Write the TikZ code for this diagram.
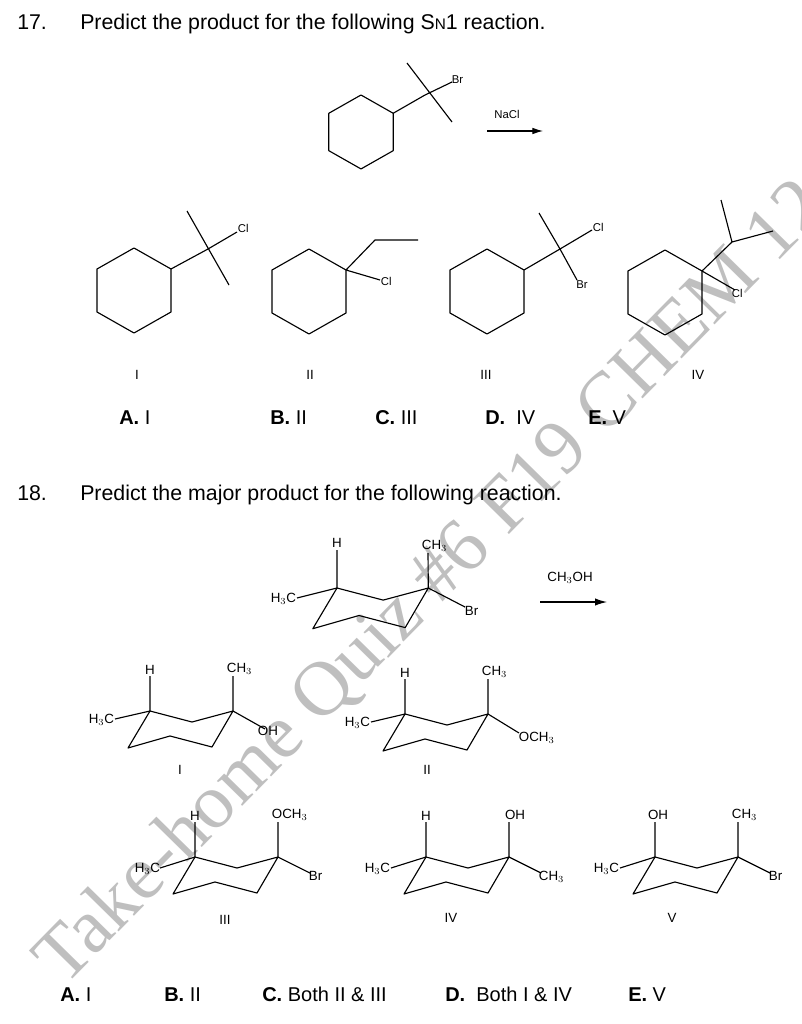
\documentclass[tikz,border=0pt]{standalone}
\usepackage{fontspec}
\usetikzlibrary{arrows.meta}
\setmainfont{Liberation Sans}
\newfontfamily\wmfont{Liberation Serif}
\tikzset{
  bond/.style={line width=0.85pt, line join=round},
  big/.style={font=\fontsize{15}{18}\selectfont, inner sep=0pt},
  head/.style={font=\fontsize{16}{19}\selectfont, inner sep=0pt},
  lab/.style={font=\fontsize{10}{12}\selectfont, inner sep=0.5pt},
  slab/.style={font=\fontsize{8.5}{10}\selectfont, inner sep=0.5pt},
  rn/.style={font=\fontsize{10}{12}\selectfont, inner sep=0pt},
  chair/.pic={
    \coordinate (-c1) at (0,0); \coordinate (-a) at (42,11);
    \coordinate (-c4) at (83,0); \coordinate (-b) at (62,36);
    \coordinate (-c) at (20,25); \coordinate (-d) at (-22,37);
    \draw[bond] (-c1)--(-a)--(-c4)--(-b)--(-c)--(-d)--cycle;
  },
  hexa/.pic={
    \coordinate (-t) at (0,0); \coordinate (-rt) at (37,21);
    \coordinate (-rb) at (37,64); \coordinate (-b) at (0,85);
    \coordinate (-lb) at (-37,64); \coordinate (-lt) at (-37,21);
    \draw[bond] (-t)--(-rt)--(-rb)--(-b)--(-lb)--(-lt)--cycle;
  }
}
\begin{document}
\begin{tikzpicture}[x=0.75pt,y=-0.75pt]
\useasboundingbox (0,0) rectangle (801,1024);
\begin{scope}
\clip (0,0) rectangle (801,1024);
\node[anchor=base west, rotate=45.5, text=black!25, font=\wmfont\fontsize{58}{60}\selectfont, inner sep=0pt] (wm) at (64,988) {Take-home Quiz \#6 F19 CHEM 12A};
\end{scope}

% ---- Question 17
\node[head, anchor=base west] (q17n) at (17,30) {17.};
\node[head, anchor=base west] (q17) at (80,30) {Predict the product for the following S{\fontsize{11.5}{12}\selectfont N}1 reaction.};

% reactant
\pic[scale=0.87] (r) at (361,95) {hexa};
\coordinate (rc) at (425,95);
\coordinate (rm1) at (407,63);
\coordinate (rm2) at (452,122);
\coordinate (rbr) at (452,82);
\draw[bond] (r-rt)--(rc) (rm1)--(rm2) (rc)--(rbr);
\node[slab, anchor=south west] (brl) at (451,84) {Br};
\node[slab] (nacl) at (507,114) {NaCl};
\coordinate (ar1s) at (487,131); \coordinate (ar1e) at (543,131);
\draw[bond, -{Latex[length=8pt,width=5pt]}] (ar1s)--(ar1e);

% product I
\pic (p1) at (134,248) {hexa};
\coordinate (p1c) at (208,249);
\draw[bond] (p1-rt)--(p1c) (187,211)--(229,285) (p1c)--(237,232);
\node[slab, anchor=west] (p1cl) at (237,228) {Cl};
\node[rn] (l1) at (137,375) {I};
% product II
\pic (p2) at (309,249) {hexa};
\draw[bond] (p2-rt)--(375,240)--(418,240) (p2-rt)--(380,280);
\node[slab, anchor=west] (p2cl) at (380,281) {Cl};
\node[rn] (l2) at (310,375) {II};
% product III
\pic (p3) at (487,249) {hexa};
\coordinate (p3c) at (560,249);
\draw[bond] (p3-rt)--(p3c)--(539,213) (p3c)--(592,230) (p3c)--(577,280);
\node[slab, anchor=west] (p3cl) at (592,227) {Cl};
\node[slab, anchor=north] (p3br) at (582,280) {Br};
\node[rn] (l3) at (486,375) {III};
% product IV
\pic (p4) at (665,250) {hexa};
\coordinate (p4c) at (732,242);
\draw[bond] (p4-rt)--(p4c)--(721,200) (p4c)--(773,231) (p4-rt)--(735,290);
\node[slab, anchor=west] (p4cl) at (731,293) {Cl};
\node[rn] (l4) at (698,375) {IV};

\node[big, anchor=base west] (a17) at (119,424) {\textbf{A.} I};
\node[big, anchor=base west] (b17) at (270,424) {\textbf{B.} II};
\node[big, anchor=base west] (c17) at (375,424) {\textbf{C.} III};
\node[big, anchor=base west] (d17) at (485,424) {\textbf{D.}\ \ IV};
\node[big, anchor=base west] (e17) at (588,424) {\textbf{E.} V};

% ---- Question 18
\node[head, anchor=base west] (q18n) at (17,500) {18.};
\node[head, anchor=base west] (q18) at (80,500) {Predict the major product for the following reaction.};

% reactant chair
\pic[scale=1.1] (s) at (337,588) {chair};
\draw[bond] (s-c1)--(337,550) (s-c1)--(297,598) (s-c4)--(428,553) (s-c4)--(465,607);
\node[lab, anchor=south] (sh) at (337,548) {H};
\node[lab, anchor=east] (sh3c) at (297,599) {H$_3$C};
\node[lab, anchor=south west] (sch3) at (421,552) {CH$_3$};
\node[lab, anchor=north west] (sbr) at (464,605) {Br};
\node[lab] (meoh) at (570,578) {CH$_3$OH};
\coordinate (ar2s) at (540,602); \coordinate (ar2e) at (607,602);
\draw[bond, -{Latex[length=9pt,width=5.5pt]}] (ar2s)--(ar2e);

% I
\pic (i) at (150,711) {chair};
\draw[bond] (i-c1)--(150,676) (i-c1)--(115,719) (i-c4)--(233,676) (i-c4)--(265,729);
\node[lab, anchor=south] at (150,675) {H};
\node[lab, anchor=east] at (115,720) {H$_3$C};
\node[lab, anchor=south west] at (226,675) {CH$_3$};
\node[lab, anchor=north west] at (257,725) {OH};
\node[rn] at (180,770) {I};
% II
\pic (ii) at (405,714) {chair};
\draw[bond] (ii-c1)--(405,679) (ii-c1)--(371,722) (ii-c4)--(488,679) (ii-c4)--(519,733);
\node[lab, anchor=south] at (405,678) {H};
\node[lab, anchor=east] at (371,723) {H$_3$C};
\node[lab, anchor=south west] at (481,678) {CH$_3$};
\node[lab, anchor=west] at (518,738) {OCH$_3$};
\node[rn] at (427,770) {II};
% III
\pic (iii) at (195,857) {chair};
\draw[bond] (iii-c1)--(195,822) (iii-c1)--(160,868) (iii-c4)--(278,822) (iii-c4)--(310,873);
\node[lab, anchor=south] at (195,821) {H};
\node[lab, anchor=east] at (161,869) {H$_3$C};
\node[lab, anchor=south west] at (271,821) {OCH$_3$};
\node[lab, anchor=north west] at (308,870) {Br};
\node[rn] at (225,920) {III};
% IV
\pic (iv) at (426,857) {chair};
\draw[bond] (iv-c1)--(426,822) (iv-c1)--(391,868) (iv-c4)--(509,822) (iv-c4)--(541,873);
\node[lab, anchor=south] at (426,821) {H};
\node[lab, anchor=east] at (391,869) {H$_3$C};
\node[lab, anchor=south] at (515,821) {OH};
\node[lab, anchor=north west] at (538,870) {CH$_3$};
\node[rn] at (451,918) {IV};
% V
\pic (v) at (655,857) {chair};
\draw[bond] (v-c1)--(655,822) (v-c1)--(620,868) (v-c4)--(738,822) (v-c4)--(770,873);
\node[lab, anchor=south] at (658,821) {OH};
\node[lab, anchor=east] at (620,869) {H$_3$C};
\node[lab, anchor=south west] at (731,821) {CH$_3$};
\node[lab, anchor=north west] at (768,870) {Br};
\node[rn] at (672,918) {V};

\node[big, anchor=base west] (a18) at (60,1001) {\textbf{A.} I};
\node[big, anchor=base west] (b18) at (164,1001) {\textbf{B.} II};
\node[big, anchor=base west] (c18) at (262,1001) {\textbf{C.} Both II \& III};
\node[big, anchor=base west] (d18) at (445,1001) {\textbf{D.}\ \ Both I \& IV};
\node[big, anchor=base west] (e18) at (628,1001) {\textbf{E.} V};
\end{tikzpicture}
\end{document}
